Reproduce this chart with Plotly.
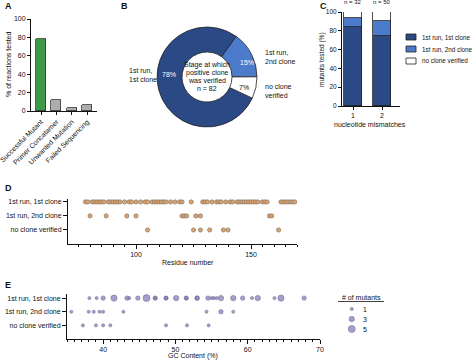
import plotly.graph_objects as go

W, H = 474, 362
def px(x): return x / W
def py(y): return 1 - y / H

FONT = "Liberation Sans, Arial, sans-serif"
BLACK = "#111111"

# ---------------- Panel A ----------------
a_categories = ["Successful Mutant", "Primer Concatamer", "Unwanted Mutation", "Failed Sequencing"]
a_values = [78, 12, 3.5, 6]
a_colors = ["#3E9A47", "#ADADAD", "#ADADAD", "#ADADAD"]
a_yticks = [0, 20, 40, 60, 80, 100]

# ---------------- Panel B ----------------
b_labels = ["1st run, 1st clone", "1st run, 2nd clone", "no clone verified"]
b_values = [78, 15, 7]
b_n = 82
DARK = "#2B4984"
LIGHT = "#4D7BCB"
b_colors = [DARK, LIGHT, "#FFFFFF"]

# ---------------- Panel C ----------------
c_groups = ["1", "2"]
c_n = [32, 50]
c_first = [84.4, 74]
c_second = [9.4, 16]
c_none = [6.2, 10]
c_series = ["1st run, 1st clone", "1st run, 2nd clone", "no clone verified"]

# ---------------- Panel D ----------------
d_rows = ["1st run, 1st clone", "1st run, 2nd clone", "no clone verified"]
d_first = [78, 79, 81, 82, 83, 84, 85, 86, 88, 89, 90, 91, 92, 93, 95, 97, 98, 100, 102,
           104, 105, 107, 108, 109, 110, 111, 112, 113, 115, 117, 119, 120, 124,
           129, 130, 131, 133, 135, 136, 137, 139, 141, 142, 144, 145, 146, 147, 148,
           149, 150, 151, 152, 153, 155, 156, 157, 163, 164, 165, 166, 167, 168, 169]
d_second = [80, 87, 96, 100, 120, 121, 122, 126, 128, 158, 159]
d_none = [105, 125, 128, 132, 138, 140, 162]

# ---------------- Panel E ----------------
e_first_gc = [38.1, 39.1, 40.0, 41.5, 43.3, 43.6, 44.8, 46.0, 47.2, 47.2, 48.7, 48.7, 50.1,
              51.5, 51.5, 53.0, 53.0, 54.5, 55.0, 55.3, 55.7, 56.3, 58.0, 59.3, 60.6,
              61.4, 63.7, 64.6, 67.8]
e_first_n = [1, 1, 2, 4, 2, 1, 2, 5, 2, 1, 2, 1, 3, 2, 1, 2, 2, 2, 1, 1, 1, 3, 3, 2, 1, 3, 1, 4, 2]
e_second_gc = [35.6, 38.0, 38.7, 39.5, 40.0, 42.8, 54.3, 56.3, 58.0]
e_second_n = [1, 1, 1, 1, 1, 1, 1, 2, 1]
e_none_gc = [37.2, 39.0, 40.0, 41.0, 48.7, 51.6, 54.6]
e_none_n = [1, 1, 1, 1, 1, 1, 1]
e_legend_n = [1, 3, 5]

fig = go.Figure()

def ax(**kw):
    base = dict(showline=True, linecolor=BLACK, linewidth=1, ticks="outside", ticklen=3,
                tickwidth=1, tickcolor=BLACK, showgrid=False, zeroline=False,
                automargin=False,
                tickfont=dict(size=7, color=BLACK, family=FONT))
    base.update(kw)
    return base

# A bars
fig.add_trace(go.Bar(x=a_categories, y=a_values, width=0.65,
                     marker=dict(color=a_colors, line=dict(color="#333333", width=0.8)),
                     xaxis="x", yaxis="y", showlegend=False))

# B donut
fig.add_trace(go.Pie(values=b_values, labels=b_labels, hole=0.5, sort=False,
                     direction="clockwise", rotation=115, textinfo="none",
                     marker=dict(colors=b_colors, line=dict(color="#222222", width=0.8)),
                     domain=dict(x=[px(157), px(257)], y=[py(127), py(27)]),
                     showlegend=False, hoverinfo="skip"))

# C stacked bars
for vals, col, name in zip([c_first, c_second, c_none], b_colors, c_series):
    fig.add_trace(go.Bar(x=c_groups, y=vals, width=0.62, name=name,
                         marker=dict(color=col, line=dict(color="#222222", width=0.8)),
                         xaxis="x2", yaxis="y2", showlegend=False))

# D strip
for vals, row in zip([d_first, d_second, d_none], d_rows):
    fig.add_trace(go.Scatter(x=vals, y=[row] * len(vals), mode="markers",
                             marker=dict(size=4.2, color="#DDA36C",
                                         line=dict(color="#857565", width=0.7)),
                             xaxis="x3", yaxis="y3", showlegend=False))

# E bubbles
def bub(n):
    return [3.1 * (v ** 0.5) for v in n]

for gc, n, row in zip([e_first_gc, e_second_gc, e_none_gc],
                      [e_first_n, e_second_n, e_none_n], d_rows):
    fig.add_trace(go.Scatter(x=gc, y=[row] * len(gc), mode="markers",
                             marker=dict(size=bub(n), color="#9485C0", opacity=0.8,
                                         line=dict(color="#5A5080", width=0.6)),
                             xaxis="x4", yaxis="y4", showlegend=False))

# E legend bubbles
fig.add_trace(go.Scatter(x=[0.15] * 3, y=[0, 1, 2], mode="markers",
                         marker=dict(size=bub(e_legend_n), color="#9485C0", opacity=0.8,
                                     line=dict(color="#5A5080", width=0.6)),
                         xaxis="x5", yaxis="y5", showlegend=False))

row_order = list(reversed(d_rows))

fig.update_layout(
    width=W, height=H, margin=dict(l=0, r=0, t=0, b=0),
    paper_bgcolor="white", plot_bgcolor="rgba(0,0,0,0)",
    font=dict(family=FONT, size=7, color=BLACK),
    barmode="stack", bargap=0,
    xaxis=ax(domain=[px(31), px(97)], range=[-0.65, 3.64], tickangle=-45, type="category",
             tickfont=dict(size=7, color=BLACK, family=FONT), anchor="y"),
    yaxis=ax(domain=[py(111), py(19)], range=[0, 100], tickvals=a_yticks, anchor="x"),
    xaxis2=ax(domain=[px(342), px(400)], range=[-0.38, 1.62], type="category", anchor="y2"),
    yaxis2=ax(domain=[py(106), py(12)], range=[0, 100], tickvals=a_yticks, anchor="x2",
              tickfont=dict(size=6.5, color=BLACK, family=FONT)),
    xaxis3=ax(domain=[px(68), px(297)], range=[70.4, 170], tickvals=[100, 150],
              ticklen=4, minor=dict(dtick=5, tick0=0, ticklen=2, ticks="outside",
                                    tickcolor=BLACK, tickwidth=1),
              anchor="y3"),
    yaxis3=ax(domain=[py(244), py(199)], type="category", categoryorder="array",
              categoryarray=row_order, range=[-1, 2.21], anchor="x3", ticklen=4),
    xaxis4=ax(domain=[px(67), px(320)], range=[35, 70], tickvals=[40, 50, 60, 70],
              ticklen=4, minor=dict(dtick=1, tick0=0, ticklen=2, ticks="outside",
                                    tickcolor=BLACK, tickwidth=1),
              anchor="y4"),
    yaxis4=ax(domain=[py(339), py(294)], type="category", categoryorder="array",
              categoryarray=row_order, range=[-1, 2.3], anchor="x4", ticklen=4),
    xaxis5=dict(domain=[px(345), px(390)], range=[0, 1], visible=False, anchor="y5",
                automargin=False),
    yaxis5=dict(domain=[py(334), py(304)], range=[2.5, -0.5], visible=False, anchor="x5",
                automargin=False),
)

ann = []
def A(x, y, text, size=7, xanchor="center", yanchor="middle", bold=False, color=BLACK,
      angle=0, align="center"):
    ann.append(dict(x=px(x), y=py(y), xref="paper", yref="paper", text=text,
                    showarrow=False, xanchor=xanchor, yanchor=yanchor, textangle=angle,
                    align=align,
                    font=dict(size=size, color=color, family=FONT,
                              weight="bold" if bold else "normal")))

# panel letters
A(3, 6, "A", size=9, xanchor="left", bold=True)
A(119, 6, "B", size=9, xanchor="left", bold=True)
A(318, 6, "C", size=9, xanchor="left", bold=True)
A(3, 188, "D", size=9, xanchor="left", bold=True)
A(3, 285, "E", size=9, xanchor="left", bold=True)

# axis titles
A(8, 65, "% of reactions tested", angle=-90)
A(322, 60, "mutants tested (%)", size=6.5, angle=-90)
A(370, 125, "nucleotide mismatches")
A(188, 262, "Residue number")
A(193, 356, "GC Content (%)")

# B donut texts
A(169, 75, f"{b_values[0]}%", color="white")
A(247, 62, f"{b_values[1]}%", color="white")
A(244, 87, f"{b_values[2]}%")
A(127, 75, "1st run,<br>1st clone", xanchor="left", align="left")
A(263, 57, "1st run,<br>2nd clone", xanchor="left", align="left")
A(263, 91, "no clone<br>verified", xanchor="left", align="left")
for i, line in enumerate(["Stage at which", "positive clone", "was verified", f"n = {b_n}"]):
    A(207, 65 + i * 7.8, line)

# C n labels (category index positions)
for i, n in enumerate(c_n):
    ann.append(dict(x=i, y=100, xref="x2", yref="y2", yshift=5, text=f"n = {n}",
                    showarrow=False, yanchor="bottom",
                    font=dict(size=6, color=BLACK, family=FONT)))

# C legend (manual)
shapes = []
for i, (name, col) in enumerate(zip(c_series, b_colors)):
    yc = 37 + i * 12
    shapes.append(dict(type="rect", xref="paper", yref="paper",
                       x0=px(406), x1=px(416), y0=py(yc + 3), y1=py(yc - 3),
                       fillcolor=col, line=dict(color="#222222", width=0.8)))
    A(420, yc, name, size=6.3, xanchor="left")

# E legend
A(361, 297, "# of mutants")
shapes.append(dict(type="line", xref="paper", yref="paper", x0=px(338), x1=px(384),
                   y0=py(301.5), y1=py(301.5), line=dict(color=BLACK, width=0.8)))
for i, n in enumerate(e_legend_n):
    A(361, 309 + i * 10, str(n), xanchor="left")

fig.update_layout(annotations=ann, shapes=shapes)
fig.write_html("out.html", config={"displayModeBar": False},
               post_script="document.body.style.margin='0px';")
